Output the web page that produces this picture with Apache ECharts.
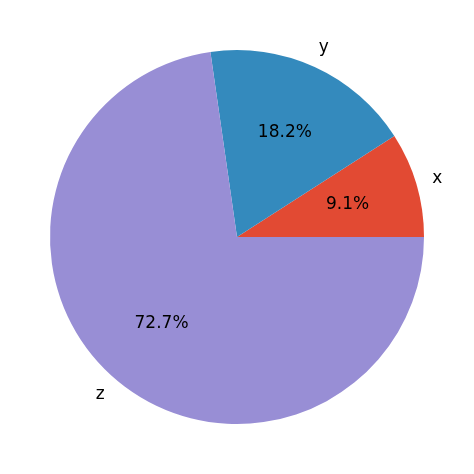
<!DOCTYPE html>
<html><head><meta charset="utf-8">
<script src="https://cdn.jsdelivr.net/npm/echarts@6/dist/echarts.min.js"></script>
<style>html,body{margin:0;padding:0;background:#fff}#c{width:474px;height:474px}</style>
</head><body><div id="c"></div>
<script>
const categories = ['x', 'y', 'z'];
const values = [1, 2, 8];
const colors = ['#E24A33', '#348ABD', '#988ED5'];
const R = 187;
const total = values.reduce((a, b) => a + b, 0);
const data = categories.map((c, i) => ({ name: c, value: values[i], itemStyle: { color: colors[i] } }));
const tdata = categories.map((c, i) => ({ name: c, value: values[i], itemStyle: { color: 'rgba(0,0,0,0)' } }));
const base = { type: 'pie', center: [237, 237], startAngle: 0, clockwise: false, animation: false, silent: true };
const font = { fontFamily: 'DejaVu Sans', fontSize: 17, color: '#000' };
const chart = echarts.init(document.getElementById('c'));
chart.setOption({
  series: [
    Object.assign({}, base, { radius: [0, R], data: data, label: { show: false }, labelLine: { show: false } }),
    Object.assign({}, base, { radius: [0, R * 1.2], data: tdata, z: 3,
      label: Object.assign({ show: true, position: 'inner', formatter: p => (p.value / total * 100).toFixed(1) + '%' }, font),
      labelLine: { show: false } }),
    Object.assign({}, base, { radius: [0, R * 2.2], data: tdata, z: 3,
      label: Object.assign({ show: true, position: 'inner', formatter: '{b}' }, font),
      labelLine: { show: false } })
  ]
});
</script></body></html>
